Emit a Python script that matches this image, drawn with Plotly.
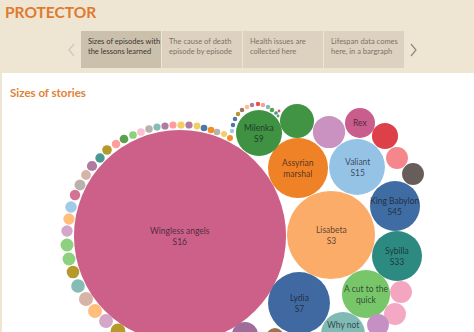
import math
import plotly.graph_objects as go

# ---------------- data ----------------
story_names = ["Wingless angels", "Lisabeta", "Lydia", "Assyrian marshal", "Valiant",
               "King Babylon", "Sybilla", "A cut to the quick", "Milenka", "Why not",
               "", "", "Rex", "", "", "", "", "", "", "", ""]
story_codes = ["S16", "S3", "S7", "", "S15", "S45", "S33", "", "S9", "",
               "", "", "", "", "", "", "", "", "", "", ""]
story_sizes = [112.4, 19.4, 9.6, 9.0, 7.8, 6.25, 6.25, 5.8, 5.3, 4.8,
               2.9, 2.6, 2.25, 1.7, 1.2, 1.2, 1.2, 1.2, 1.2, 1.7, 0.8]
story_colors = ["#cd6088", "#fbac68", "#3f69a0", "#ef8126", "#95c3e6",
                "#3f6ca2", "#2d8a80", "#77c76a", "#3f9242", "#80bab4",
                "#409444", "#c992c0", "#c95d8b", "#dd4049", "#f5878c",
                "#675d5b", "#f4a6c1", "#f3a9c4", "#c590c4", "#a06c9a", "#a0714f"]
# packed-bubble layout positions (layout units)
story_x = [180, 331, 299, 298, 357, 395, 397, 366, 259, 343,
           297, 329, 360, 385, 397, 413, 401, 395, 378, 245, 275]
story_y = [236, 235, 303, 168, 167, 206, 256, 294, 133, 334,
           121, 132, 123, 136, 158, 174, 292, 314, 325, 335, 337]

# small stories around the biggest bubble
small_sizes = [0.09, 0.09, 0.11, 0.11, 0.11, 0.12, 0.13, 0.13, 0.13, 0.13, 0.13,
               0.14, 0.15, 0.15, 0.19, 0.18, 0.23, 0.22, 0.26, 0.24, 0.30,
               0.27, 0.34, 0.32, 0.32, 0.42, 0.42, 0.40, 0.47, 0.50, 0.49,
               0.48, 0.55,
               0.05, 0.05, 0.05, 0.05, 0.05, 0.05, 0.05, 0.05, 0.05, 0.05,
               0.05, 0.035, 0.02, 0.02]
small_colors = ["#f28e2b", "#f1ce63", "#bab0ac", "#f28e2b", "#4e79a7", "#f1ce63",
                "#b07aa1", "#f1ce63", "#ff9d9a", "#b07aa1", "#86bcb6", "#bab0ac",
                "#fabfd2", "#8cd17d", "#59a14f", "#ff9d9a", "#b6992d", "#499894",
                "#b07aa1", "#d7b5a6", "#bab0ac", "#d37295", "#a0cbe8", "#ffbe7d",
                "#d4a6c8", "#8cd17d", "#8cd17d", "#b6992d", "#86bcb6", "#d7b5a6",
                "#ffbe7d", "#d4a6c8", "#b6992d",
                "#a0cbe8", "#4e79a7", "#4e79a7", "#b6992d", "#9d7660", "#ffbe7d",
                "#b07aa1", "#e15759", "#ff9d9a", "#86bcb6", "#59a14f", "#499894",
                "#e15759", "#59a14f"]
small_x = [230, 224, 217, 211, 204, 197, 189, 181, 173, 165, 157, 149, 141, 133,
           124, 116, 107, 100, 92, 86, 80, 75, 71, 69, 67, 67, 69, 73, 78, 86,
           95, 106, 118,
           232, 233, 235, 238, 242, 247, 252, 258, 263, 268, 272, 276, 279, 278]
small_y = [138, 134, 132, 130, 128, 126, 125, 125, 125, 126, 127, 129, 132, 135,
           139, 144, 150, 158, 166, 175, 185, 195, 207, 219, 231, 245, 259, 272,
           286, 299, 311, 321, 331,
           131, 125, 119, 114, 110, 107, 105, 104, 105, 107, 110, 113, 111, 116]

tab_titles = ["Sizes of episodes with<br>the lessons learned",
              "The cause of death<br>episode by episode",
              "Health issues are<br>collected here",
              "Lifespan data comes<br>here, in a bargraph"]

title_text = "PROTECTOR"
subtitle_text = "Sizes of stories"

RADIUS_SCALE = 10.0  # radius = scale * sqrt(size)

W, H = 474, 332
fig = go.Figure()
shapes = []
annotations = []

# header background
shapes.append(dict(type="rect", xref="x", yref="y", x0=0, x1=W, y0=0, y1=73,
                   fillcolor="#efe5d3", line=dict(width=0), layer="below"))
shapes.append(dict(type="rect", xref="x", yref="y", x0=0, x1=2, y0=73, y1=H,
                   fillcolor="#efe5d3", line=dict(width=0), layer="below"))

# tabs
tab_x0 = [81, 162, 243, 324]
tab_x1 = [161, 242, 323, 404]
for i, t in enumerate(tab_titles):
    shapes.append(dict(type="rect", xref="x", yref="y", x0=tab_x0[i], x1=tab_x1[i],
                       y0=31, y1=68, fillcolor="#cbc0ac" if i == 0 else "#ddd2bf",
                       line=dict(width=0), layer="below"))
    annotations.append(dict(x=tab_x0[i] + 5, y=46.5, xref="x", yref="y", text=t,
                            showarrow=False, xanchor="left", yanchor="middle", align="left",
                            font=dict(family="Lato", size=7.5,
                                      color="#3a3530" if i == 0 else "#7a7269")))
# arrows
shapes.append(dict(type="path", xref="x", yref="y", path="M 74 44 L 69 50 L 74 56",
                   line=dict(color="#cfc7b9", width=1.2)))
shapes.append(dict(type="path", xref="x", yref="y", path="M 411 44 L 416 50 L 411 56",
                   line=dict(color="#8f8880", width=1.2)))

# title & subtitle
annotations.append(dict(x=3, y=11.5, xref="x", yref="y", text="<b>" + title_text + "</b>",
                        showarrow=False, xanchor="left", yanchor="middle",
                        font=dict(family="Lato", size=15.5, color="#e07a2c")))
annotations.append(dict(x=8, y=92, xref="x", yref="y", text="<b>" + subtitle_text + "</b>",
                        showarrow=False, xanchor="left", yanchor="middle",
                        font=dict(family="Lato", size=11.5, color="#e08236")))

# bubbles
def add_circle(cx, cy, size, color):
    r = RADIUS_SCALE * math.sqrt(size)
    shapes.append(dict(type="circle", xref="x", yref="y", x0=cx - r, x1=cx + r,
                       y0=cy - r, y1=cy + r, fillcolor=color, line=dict(width=0),
                       layer="above"))

for i in range(len(story_sizes)):
    add_circle(story_x[i], story_y[i], story_sizes[i], story_colors[i])
for i in range(len(small_sizes)):
    add_circle(small_x[i], small_y[i], small_sizes[i], small_colors[i])

# labels
for i in range(len(story_names)):
    name = story_names[i]
    if not name:
        continue
    code = story_codes[i]
    if name == "Assyrian marshal":
        txt = "Assyrian<br>marshal"
    elif name == "A cut to the quick":
        txt = "A cut to the<br>quick"
    elif code:
        txt = name + "<br>" + code
    else:
        txt = name
    ty = story_y[i]
    if name == "Why not":
        ty = story_y[i] - 9
    annotations.append(dict(x=story_x[i], y=ty, xref="x", yref="y", text=txt,
                            showarrow=False, xanchor="center", yanchor="middle",
                            align="center",
                            font=dict(family="Lato", size=8.5, color="rgba(20,20,30,0.72)")))

fig.update_layout(
    width=W, height=H,
    margin=dict(l=0, r=0, t=0, b=0),
    paper_bgcolor="white", plot_bgcolor="white",
    xaxis=dict(range=[0, W], visible=False, fixedrange=True),
    yaxis=dict(range=[H, 0], visible=False, fixedrange=True),
    shapes=shapes, annotations=annotations, showlegend=False,
)
fig.write_html("out.html")
